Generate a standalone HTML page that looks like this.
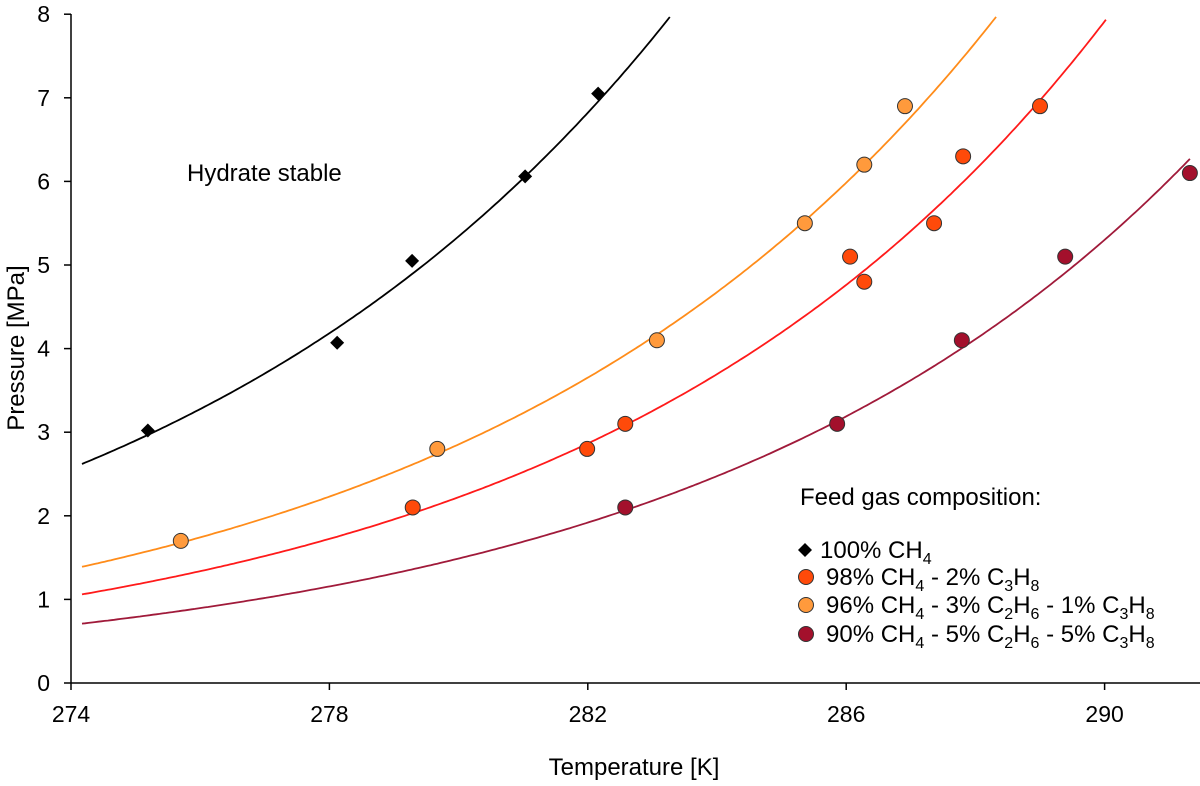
<!DOCTYPE html>
<html><head><meta charset="utf-8"><style>
body{margin:0;background:#fff;font-family:"Liberation Sans",Arial,sans-serif}
svg text{font-family:"Liberation Sans",Arial,sans-serif}
</style></head><body>
<svg id="c" width="1200" height="781" viewBox="0 0 1200 781"></svg>
<script>
const xTicks=[274,278,282,286,290];
const yTicks=[0,1,2,3,4,5,6,7,8];
const ch4T=[275.19,278.12,279.28,281.03,282.16];
const ch4P=[3.02,4.07,5.05,6.06,7.05];
const s96T=[275.7,279.67,283.07,285.36,286.28,286.91];
const s96P=[1.7,2.8,4.1,5.5,6.2,6.9];
const s98T=[279.29,281.99,282.58,286.06,286.28,287.36,287.81,289.0];
const s98P=[2.1,2.8,3.1,5.1,4.8,5.5,6.3,6.9];
const s90T=[282.58,285.86,287.79,289.39,291.32];
const s90P=[2.1,3.1,4.1,5.1,6.1];
// fitted curves P = p0*exp(k*(T-274.17)), T from 274.17 to tEnd
const fitP0=[2.62,1.39,1.06,0.71];
const fitK=[0.1222,0.1234,0.127,0.127];
const fitEnd=[283.3,288.35,290.05,291.32];
const fitColor=['#000','#ff8c1a','#ff1a1a','#a01a3a'];

const svg=document.getElementById('c');const NS='http://www.w3.org/2000/svg';
const X=t=>71+(t-274)*64.6, Y=p=>683-p*83.6;
function mk(tag,a,parent){const e=document.createElementNS(NS,tag);for(const k in a)e.setAttribute(k,a[k]);(parent||svg).appendChild(e);return e;}
const defs=mk('defs',{});const cp=mk('clipPath',{id:'cl'},defs);mk('rect',{x:71,y:14,width:1129,height:669},cp);
let e=mk('line',{x1:71,y1:14,x2:71,y2:683,stroke:'#000','stroke-width':1.5});


e=mk('line',{x1:71,y1:683,x2:1200,y2:683,stroke:'#000','stroke-width':1.5});


xTicks.forEach(t=>{mk('line',{x1:X(t),y1:683,x2:X(t),y2:690,stroke:'#000','stroke-width':1.5});
 e=mk('text',{x:X(t),y:722,'text-anchor':'middle','font-size':23});e.textContent=t;
 
 });
yTicks.forEach(p=>{mk('line',{x1:64,y1:Y(p),x2:71,y2:Y(p),stroke:'#000','stroke-width':1.5});
 e=mk('text',{x:50,y:Y(p)+8,'text-anchor':'end','font-size':23});e.textContent=p;
 
 });
e=mk('text',{x:634,y:775,'text-anchor':'middle','font-size':24});e.textContent='Temperature [K]';


e=mk('text',{x:24,y:348,'text-anchor':'middle','font-size':24,transform:'rotate(-90 24 348)'});e.textContent='Pressure [MPa]';


const g=mk('g',{'clip-path':'url(#cl)'});
fitP0.forEach((p0,i)=>{let d='';for(let t=274.17;t<=fitEnd[i]+1e-9;t+=0.05){d+=(d?'L':'M')+X(t).toFixed(1)+','+Y(p0*Math.exp(fitK[i]*(t-274.17))).toFixed(1);}
 e=mk('path',{d:d,fill:'none',stroke:fitColor[i],'stroke-width':1.8},g);
 
 });
function circles(T,P,fill,name){T.forEach((t,i)=>{e=mk('circle',{cx:X(t),cy:Y(P[i]),r:7.5,fill:fill,stroke:'#333','stroke-width':1});
 
 });}
circles(s96T,s96P,'#ff9a3c','point-96');
circles(s98T,s98P,'#ff4a0a','point-98');
circles(s90T,s90P,'#a3102c','point-90');
ch4T.forEach((t,i)=>{const x=X(t),y=Y(ch4P[i]);e=mk('polygon',{points:`${x},${y-7} ${x+7},${y} ${x},${y+7} ${x-7},${y}`,fill:'#000'});
 
 });
e=mk('text',{x:187,y:181,'font-size':24});e.textContent='Hydrate stable';


</script>
<svg style="position:absolute;left:0;top:0" width="1200" height="781">
<g font-family="Liberation Sans, Arial, sans-serif" font-size="24">
<text x="800" y="505">Feed gas composition:</text>
<polygon points="805,543 812,550 805,557 798,550" fill="#000"/>
<text x="820" y="558">100% CH<tspan font-size="16" dy="6">4</tspan></text>
<circle cx="806" cy="577" r="7.5" fill="#ff4a0a" stroke="#333"/>
<text x="826" y="585">98% CH<tspan font-size="16" dy="6">4</tspan><tspan dy="-6"> - 2% C</tspan><tspan font-size="16" dy="6">3</tspan><tspan dy="-6">H</tspan><tspan font-size="16" dy="6">8</tspan></text>
<circle cx="806" cy="605" r="7.5" fill="#ff9a3c" stroke="#333"/>
<text x="826" y="613">96% CH<tspan font-size="16" dy="6">4</tspan><tspan dy="-6"> - 3% C</tspan><tspan font-size="16" dy="6">2</tspan><tspan dy="-6">H</tspan><tspan font-size="16" dy="6">6</tspan><tspan dy="-6"> - 1% C</tspan><tspan font-size="16" dy="6">3</tspan><tspan dy="-6">H</tspan><tspan font-size="16" dy="6">8</tspan></text>
<circle cx="806" cy="634" r="7.5" fill="#a3102c" stroke="#333"/>
<text x="826" y="642">90% CH<tspan font-size="16" dy="6">4</tspan><tspan dy="-6"> - 5% C</tspan><tspan font-size="16" dy="6">2</tspan><tspan dy="-6">H</tspan><tspan font-size="16" dy="6">6</tspan><tspan dy="-6"> - 5% C</tspan><tspan font-size="16" dy="6">3</tspan><tspan dy="-6">H</tspan><tspan font-size="16" dy="6">8</tspan></text>
</g></svg>
</body></html>
